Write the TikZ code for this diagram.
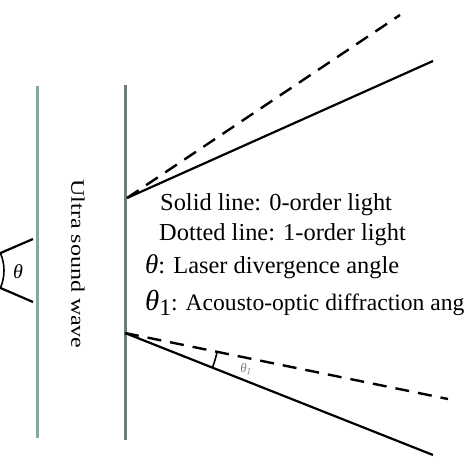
\documentclass[tikz,border=0pt]{standalone}
\usepackage{fontspec}
\setmainfont{Liberation Serif}
\begin{document}
\begin{tikzpicture}[x=1pt, y=-1pt,
    plate/.style={line width=3pt},
    beam/.style={line width=2.2pt},
    dbeam/.style={line width=2.4pt, dash pattern=on 14pt off 9pt},
    lbl/.style={anchor=base west, inner sep=0pt, font=\fontsize{24.4}{28}\selectfont}]
        \clip (0,0) rectangle (474,474);
        % the two plates
        \coordinate (L1) at (37, 86);
        \coordinate (L2) at (37, 438);
        \coordinate (R1) at (125, 85);
        \coordinate (R2) at (125, 440);
        \draw[plate, color={rgb,255:red,125;green,170;blue,162}] (L1) -- (L2);
        \draw[plate, color={rgb,255:red,107;green,127;blue,122}] (R1) -- (R2);
        \node[rotate=-90, yscale=0.8, inner sep=0pt, font=\fontsize{24}{28}\selectfont] (U) at (78, 264) {Ultra sound wave};
        % incoming laser
        \coordinate (V) at (-40, 270.5);
        \coordinate (A) at (33, 239);
        \coordinate (B) at (33, 302);
        \draw[beam] (A) -- (V) -- (B);
        \draw[line width=1.6pt] (V) ++(-23.6:44) arc[start angle=-23.6, end angle=23.6, radius=44];
        \node[font=\fontsize{20}{24}\selectfont\itshape] (T) at (18, 272) {θ};
        % upper beams
        \coordinate (O1) at (127, 198);
        \coordinate (D1) at (400, 15);
        \coordinate (S1) at (433, 61);
        \draw[dbeam] (O1) -- (D1);
        \draw[beam] (O1) -- (S1);
        % lower beams
        \coordinate (O2) at (125, 333);
        \coordinate (D2) at (448, 399);
        \coordinate (S2) at (433, 455);
        \draw[dbeam] (O2) -- (D2);
        \draw[beam] (O2) -- (S2);
        \draw[line width=1.6pt] (O2) ++(11.5:94) arc[start angle=11.5, end angle=21.6, radius=94];
        \node[font=\fontsize{13}{15}\selectfont\itshape, text=gray] (T1) at (246, 369) {θ\textsubscript{1}};
        % legend
        \node[lbl] (sol) at (160, 210) {Solid line: 0-order light};
        \node[lbl] (dot) at (159, 240) {Dotted line: 1-order light};
        \node[lbl] (las) at (145, 273) {{\fontsize{27}{28}\selectfont\itshape θ}: Laser divergence angle};
        \node[lbl, font=\fontsize{23.6}{28}\selectfont] (aco) at (145, 310) {{\fontsize{29}{30}\selectfont\itshape θ}\raisebox{-0.25em}{1}: Acousto-optic diffraction ang};
\end{tikzpicture}
\end{document}
